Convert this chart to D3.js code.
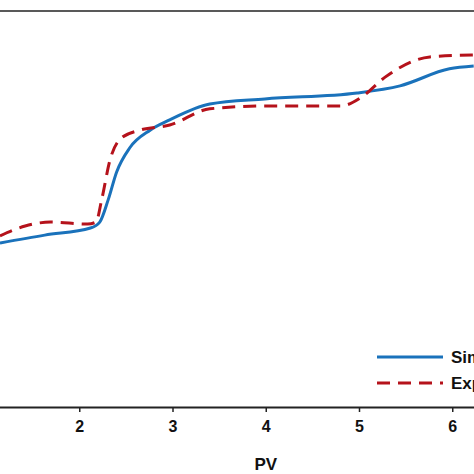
<!DOCTYPE html>
<html><head><meta charset="utf-8">
<script src="https://cdn.jsdelivr.net/npm/d3@7"></script>
<style>body{margin:0;background:#fff}svg{display:block;font-family:Arial,"Liberation Sans",sans-serif}</style>
</head><body><div id="chart"></div>
<script>
// PV values and normalized response for each series
const simPV = [1.15, 1.63, 2.12, 2.22, 2.31, 2.40, 2.54, 2.76, 2.97, 3.40, 3.99, 4.98, 5.44, 5.97, 6.23];
const simVal = [0.414, 0.434, 0.452, 0.467, 0.523, 0.593, 0.654, 0.699, 0.725, 0.765, 0.778, 0.793, 0.811, 0.854, 0.861];
const expPV = [1.15, 1.42, 1.69, 2.09, 2.18, 2.24, 2.33, 2.45, 2.65, 2.97, 3.40, 3.99, 4.80, 5.03, 5.28, 5.76, 6.23];
const expVal = [0.432, 0.457, 0.467, 0.462, 0.467, 0.523, 0.624, 0.679, 0.699, 0.712, 0.753, 0.760, 0.760, 0.783, 0.833, 0.884, 0.889];
const xTicks = [2, 3, 4, 5, 6];
const seriesNames = ["Simulation", "Experiment"];

const W = 474, H = 474;
const svg = d3.select("#chart").append("svg").attr("width", W).attr("height", H);

// plot area extends past the window edges (cropped figure)
const x = d3.scaleLinear().domain([1, 7]).range([-14, 545.5]);
const y = d3.scaleLinear().domain([0, 1]).range([407, 11]);

// top frame
svg.append("line").attr("x1", 0).attr("x2", W).attr("y1", 11).attr("y2", 11)
  .attr("stroke", "#222").attr("stroke-width", 1.5);

const xAxis = svg.append("g").attr("transform", "translate(0,407)")
  .call(d3.axisBottom(x).tickValues(xTicks).tickSize(5).tickPadding(9).tickFormat(d3.format("d")));
xAxis.select(".domain").attr("stroke", "#222").attr("stroke-width", 1.8);
xAxis.selectAll(".tick line").attr("stroke", "#222").attr("stroke-width", 1.5);
xAxis.attr("font-size", null).attr("font-family", null);
xAxis.selectAll("text").style("font-size", "16px").style("font-weight", "bold").attr("fill", "#111");

svg.append("text").attr("x", x(4)).attr("y", 470).attr("text-anchor", "middle")
  .style("font-size", "17px").attr("font-weight", "bold").attr("fill", "#111").text("PV");

const line = d3.line().x(d => x(d[0])).y(d => y(d[1])).curve(d3.curveMonotoneX);

svg.append("path").datum(simPV.map((p, i) => [p, simVal[i]]))
  .attr("d", line).attr("fill", "none").attr("stroke", "#1a72bb").attr("stroke-width", 3);
svg.append("path").datum(expPV.map((p, i) => [p, expVal[i]]))
  .attr("d", line).attr("fill", "none").attr("stroke", "#b5121b").attr("stroke-width", 3)
  .attr("stroke-dasharray", "13,8");

// legend
const legend = svg.append("g");
seriesNames.forEach((name, i) => {
  const ly = 357 + i * 26;
  legend.append("line").attr("x1", 377).attr("x2", 443).attr("y1", ly).attr("y2", ly)
    .attr("stroke", i === 0 ? "#1a72bb" : "#b5121b").attr("stroke-width", 3)
    .attr("stroke-dasharray", i === 0 ? null : "13,8");
  legend.append("text").attr("x", 451).attr("y", ly + 6).style("font-size", "17px")
    .attr("font-weight", "bold").attr("fill", "#111").text(name);
});
</script></body></html>
